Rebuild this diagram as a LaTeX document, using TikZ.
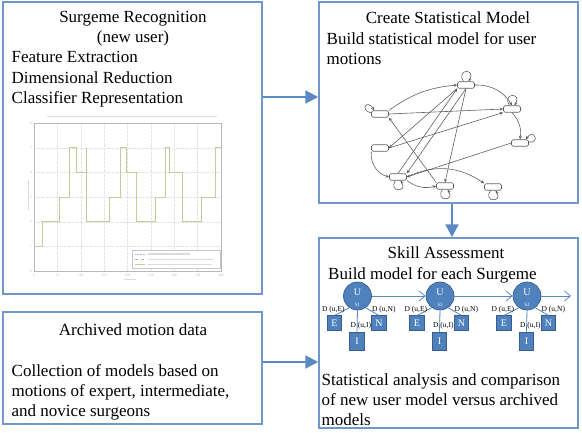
\documentclass[tikz,border=0pt]{standalone}
\usepackage{fontspec}
\setmainfont{Liberation Serif}
\usetikzlibrary{arrows.meta,calc}
\definecolor{boxblue}{RGB}{111,151,201}
\definecolor{arrblue}{RGB}{91,137,196}
\definecolor{nodefill}{RGB}{79,129,189}
\definecolor{nodeline}{RGB}{56,93,140}
\definecolor{stepcol}{RGB}{200,201,155}
\definecolor{graphgray}{RGB}{95,95,95}
\definecolor{plotgray}{RGB}{185,185,185}
\definecolor{fadetext}{RGB}{218,218,218}
\begin{document}
\begin{tikzpicture}[x=1pt,y=1pt,
  panel/.style={draw=boxblue, line width=1.5pt, inner sep=0pt},
  bigarrow/.style={draw=arrblue, line width=2.2pt, -{Triangle[length=13pt,width=13pt]}},
  txt/.style={inner sep=0pt, font=\fontsize{17}{20}\selectfont},
  gnode/.style={draw=graphgray, rounded corners=1.5pt, minimum width=17pt, minimum height=6.5pt, inner sep=0pt, line width=0.6pt},
  gedge/.style={draw=graphgray, line width=0.6pt, -{Stealth[length=3.5pt,width=3pt]}},
  ucirc/.style={circle, draw=nodeline, fill=nodefill, minimum size=28pt, inner sep=0pt, line width=0.7pt},
  ulab/.style={inner sep=0pt, text=white, font=\fontsize{10}{10}\selectfont},
  slab/.style={inner sep=0pt, text=white, font=\fontsize{5}{5}\selectfont},
  sq/.style={draw=nodeline, fill=nodefill, minimum size=14.5pt, inner sep=0pt, text=white, font=\fontsize{10}{10}\selectfont, line width=0.6pt},
  sqtall/.style={sq, minimum height=18pt},
  link/.style={draw=nodefill, line width=0.8pt},
  dlab/.style={inner sep=0pt, font=\fontsize{7.5}{8}\selectfont},
  chain/.style={draw=arrblue, line width=0.8pt, -{Straight Barb[length=6pt,width=10pt]}},
  tick/.style={inner sep=0pt, text=plotgray, font=\fontsize{3.5}{4}\selectfont}
]
\useasboundingbox (0,0) rectangle (582,-432);

% ---------- panels ----------
\node[panel, minimum width=259pt, minimum height=292pt] (b1) at (132.5,-148) {};
\node[panel, minimum width=259pt, minimum height=201pt] (b2) at (448.5,-102.5) {};
\node[panel, minimum width=259pt, minimum height=190pt] (b3) at (448.5,-333) {};
\node[panel, minimum width=259pt, minimum height=112pt] (b4) at (132.5,-368) {};

% ---------- connectors between panels ----------
\coordinate (r1) at (0,-97);
\coordinate (r2) at (0,-362);
\coordinate (r3) at (452,0);
\draw[bigarrow] (b1.east |- r1) -- (b2.west |- r1);
\draw[bigarrow] (b4.east |- r2) -- (b3.west |- r2);
\draw[bigarrow] (b2.south -| r3) -- (b3.north -| r3);

% ---------- panel 1 text ----------
\node[txt, anchor=base] (t11) at (133,-22) {Surgeme Recognition};
\node[txt, anchor=base] (t12) at (133,-42.4) {(new user)};
\node[txt, anchor=base west] (t13) at (11.5,-62.6) {Feature Extraction};
\node[txt, anchor=base west] (t14) at (11.5,-83) {Dimensional Reduction};
\node[txt, anchor=base west] (t15) at (11.5,-103.4) {Classifier Representation};

% ---------- plot in panel 1 ----------
\fill[fadetext] (47,-115.6) rectangle (217,-116.8);
\foreach \k in {1,...,5}{
  \draw[plotgray!40, densely dotted, line width=0.3pt] (34,-271+24.667*\k) -- (221,-271+24.667*\k);
}
\foreach \i in {1,...,7}{
  \draw[plotgray!40, densely dotted, line width=0.3pt] (34+23.375*\i,-123) -- (34+23.375*\i,-271);
}
\draw[plotgray, line width=0.4pt] (34,-123) rectangle (221,-271);
\foreach \k in {0,...,6}{
  \node[tick, anchor=east] at (32,-271+24.667*\k) {\k};
}
\foreach \i/\v in {0/0,1/50,2/100,3/150,4/200,5/250,6/300,7/350,8/400}{
  \node[tick, anchor=north] at (34+23.375*\i,-273.5) {\v};
}
\fill[fadetext] (124,-278.5) rectangle (136,-279.8);
\fill[fadetext] (27.5,-180) rectangle (28.7,-210);
\draw[stepcol, line width=0.8pt]
  (34,-246.3) -- (42.7,-246.3) -- (42.7,-221.7) -- (59.3,-221.7) -- (59.3,-197) -- (69.3,-197)
  -- (69.3,-147.7) -- (76,-147.7) -- (76,-172.3) -- (86.7,-172.3) -- (86.7,-147.7) -- (86.7,-221.7)
  -- (109.3,-221.7) -- (109.3,-197) -- (120,-197) -- (120,-147.7) -- (126.7,-147.7) -- (126.7,-172.3)
  -- (136.7,-172.3) -- (136.7,-221.7) -- (155,-221.7) -- (155,-197) -- (165,-197) -- (165,-147.7)
  -- (169.3,-147.7) -- (169.3,-172.3) -- (182.7,-172.3) -- (182.7,-221.7) -- (201.7,-221.7)
  -- (201.7,-197) -- (215,-197) -- (215,-147.7) -- (221,-147.7);
\draw[plotgray!80, fill=white, line width=0.3pt] (132,-250) rectangle (220.5,-268.5);
\draw[blue!30, densely dotted, line width=0.5pt] (135,-254) -- (145,-254);
\draw[green!40!black!40, dashed, line width=0.5pt] (135,-259.3) -- (145,-259.3);
\draw[stepcol, line width=0.5pt] (135,-264.6) -- (145,-264.6);
\fill[fadetext] (148,-253.4) rectangle (190,-254.6);
\fill[fadetext] (148,-258.7) rectangle (213,-259.9);
\fill[fadetext] (148,-264) rectangle (212,-265.2);

% ---------- panel 2 text ----------
\node[txt, anchor=base] (t21) at (448,-23) {Create Statistical Model};
\node[txt, anchor=base west] (t22) at (326.5,-44.5) {Build statistical model for user};
\node[txt, anchor=base west] (t23) at (326.5,-64.9) {motions};

% ---------- state graph in panel 2 ----------
\node[gnode] (gA) at (466,-85) {};
\node[gnode] (gB) at (380,-114) {};
\node[gnode] (gC) at (512,-109) {};
\node[gnode] (gD) at (380,-148) {};
\node[gnode] (gE) at (520,-143) {};
\node[gnode] (gF) at (398,-177) {};
\node[gnode] (gG) at (445,-186) {};
\node[gnode] (gH) at (493,-187) {};
% self loops
\draw[gedge] ([xshift=-2.5pt]gA.north) .. controls +(-8,13) and +(8,13) .. ([xshift=2.5pt]gA.north);
\draw[gedge] ([xshift=-2.5pt]gC.north) .. controls +(-8,13) and +(8,13) .. ([xshift=2.5pt]gC.north);
\draw[gedge] ([yshift=1pt]gB.west) .. controls +(-12,3) and +(-7,12) .. ([xshift=3pt]gB.north west);
\draw[gedge] ([yshift=1pt]gE.east) .. controls +(12,-2) and +(8,12) .. ([xshift=-3pt]gE.north east);
\draw[gedge] ([xshift=-2.5pt]gF.south) .. controls +(-8,-12) and +(8,-12) .. ([xshift=2.5pt]gF.south);
\draw[gedge] ([xshift=-2.5pt]gG.south) .. controls +(-8,-12) and +(8,-12) .. ([xshift=2.5pt]gG.south);
\draw[gedge] ([xshift=-2.5pt]gH.south) .. controls +(-8,-12) and +(8,-12) .. ([xshift=2.5pt]gH.south);
% transitions
\draw[gedge] (gB.north east) to[bend left=15] (gA.west);
\draw[gedge] (gB.east) -- (gC.west);
\draw[gedge] (gA.east) to[bend left=30] (gC.north);
\draw[gedge] (gC.south) to[bend left=25] (gE.north);
\draw[gedge] (gG.north west) -- (gB.south east);
\draw[gedge] (gA.south west) -- (gD.east);
\draw[gedge] (gD.east) -- (gC.south west);
\draw[gedge] (gF.north) -- (gA.south west);
\draw[gedge] (gA.south) -- (gF.north east);
\draw[gedge] (gA.south) -- (gG.north);
\draw[gedge] (gE.west) -- (gF.east);
\draw[gedge] (gD.south west) to[bend right=40] (gF.west);
\draw[gedge] (gF.south east) to[bend right=25] (gG.west);
\draw[gedge] (gF.east) to[bend left=30] (gH.north west);

% ---------- panel 3 ----------
\node[txt, anchor=base] (t31) at (446,-258.5) {Skill Assessment};
\node[txt, anchor=base west] (t32) at (328,-279) {Build model for each Surgeme};
\foreach \i/\cx/\sub in {1/357.5/S1, 2/440/S3, 3/527/S2}{
  \node[ucirc] (u\i) at (\cx,-296) {};
  \node[ulab] (ul\i) at ([yshift=3.5pt]u\i.center) {U};
  \node[slab] (us\i) at ([yshift=-8.5pt]u\i.center) {\sub};
  \node[sq] (e\i) at ([xshift=-23pt,yshift=-27pt]u\i.center) {E};
  \node[sq] (n\i) at ([xshift=21.5pt,yshift=-27pt]u\i.center) {N};
  \node[sqtall] (i\i) at ([xshift=-0.5pt,yshift=-45pt]u\i.center) {I};
  \draw[link] (u\i.-125) -- (e\i.north);
  \draw[link] (u\i.-55) -- (n\i.north);
  \draw[link] (u\i.south) -- (i\i.north);
  \node[dlab, anchor=base west] (de\i) at ([xshift=-35.5pt,yshift=-15pt]u\i.center) {D (u,E)};
  \node[dlab, anchor=base west] (dn\i) at ([xshift=14.5pt,yshift=-15pt]u\i.center) {D (u,N)};
  \node[dlab, anchor=base west] (di\i) at ([xshift=-7pt,yshift=-31.5pt]u\i.center) {D (u,I)};
}
\coordinate (uend) at (571,-296);
\draw[chain] (u1.east) -- (u2.west);
\draw[chain] (u2.east) -- (u3.west);
\draw[chain] (u3.east) -- (uend);
\node[txt, anchor=base west] (t33) at (321.5,-385) {Statistical analysis and comparison};
\node[txt, anchor=base west] (t34) at (321.5,-405.4) {of new user model versus archived};
\node[txt, anchor=base west] (t35) at (321.5,-425.8) {models};

% ---------- panel 4 ----------
\node[txt, anchor=base] (t41) at (133,-335) {Archived motion data};
\node[txt, anchor=base west] (t42) at (11.5,-376) {Collection of models based on};
\node[txt, anchor=base west] (t43) at (11.5,-396.4) {motions of expert, intermediate,};
\node[txt, anchor=base west] (t44) at (11.5,-416.8) {and novice surgeons};
\end{tikzpicture}
\end{document}
